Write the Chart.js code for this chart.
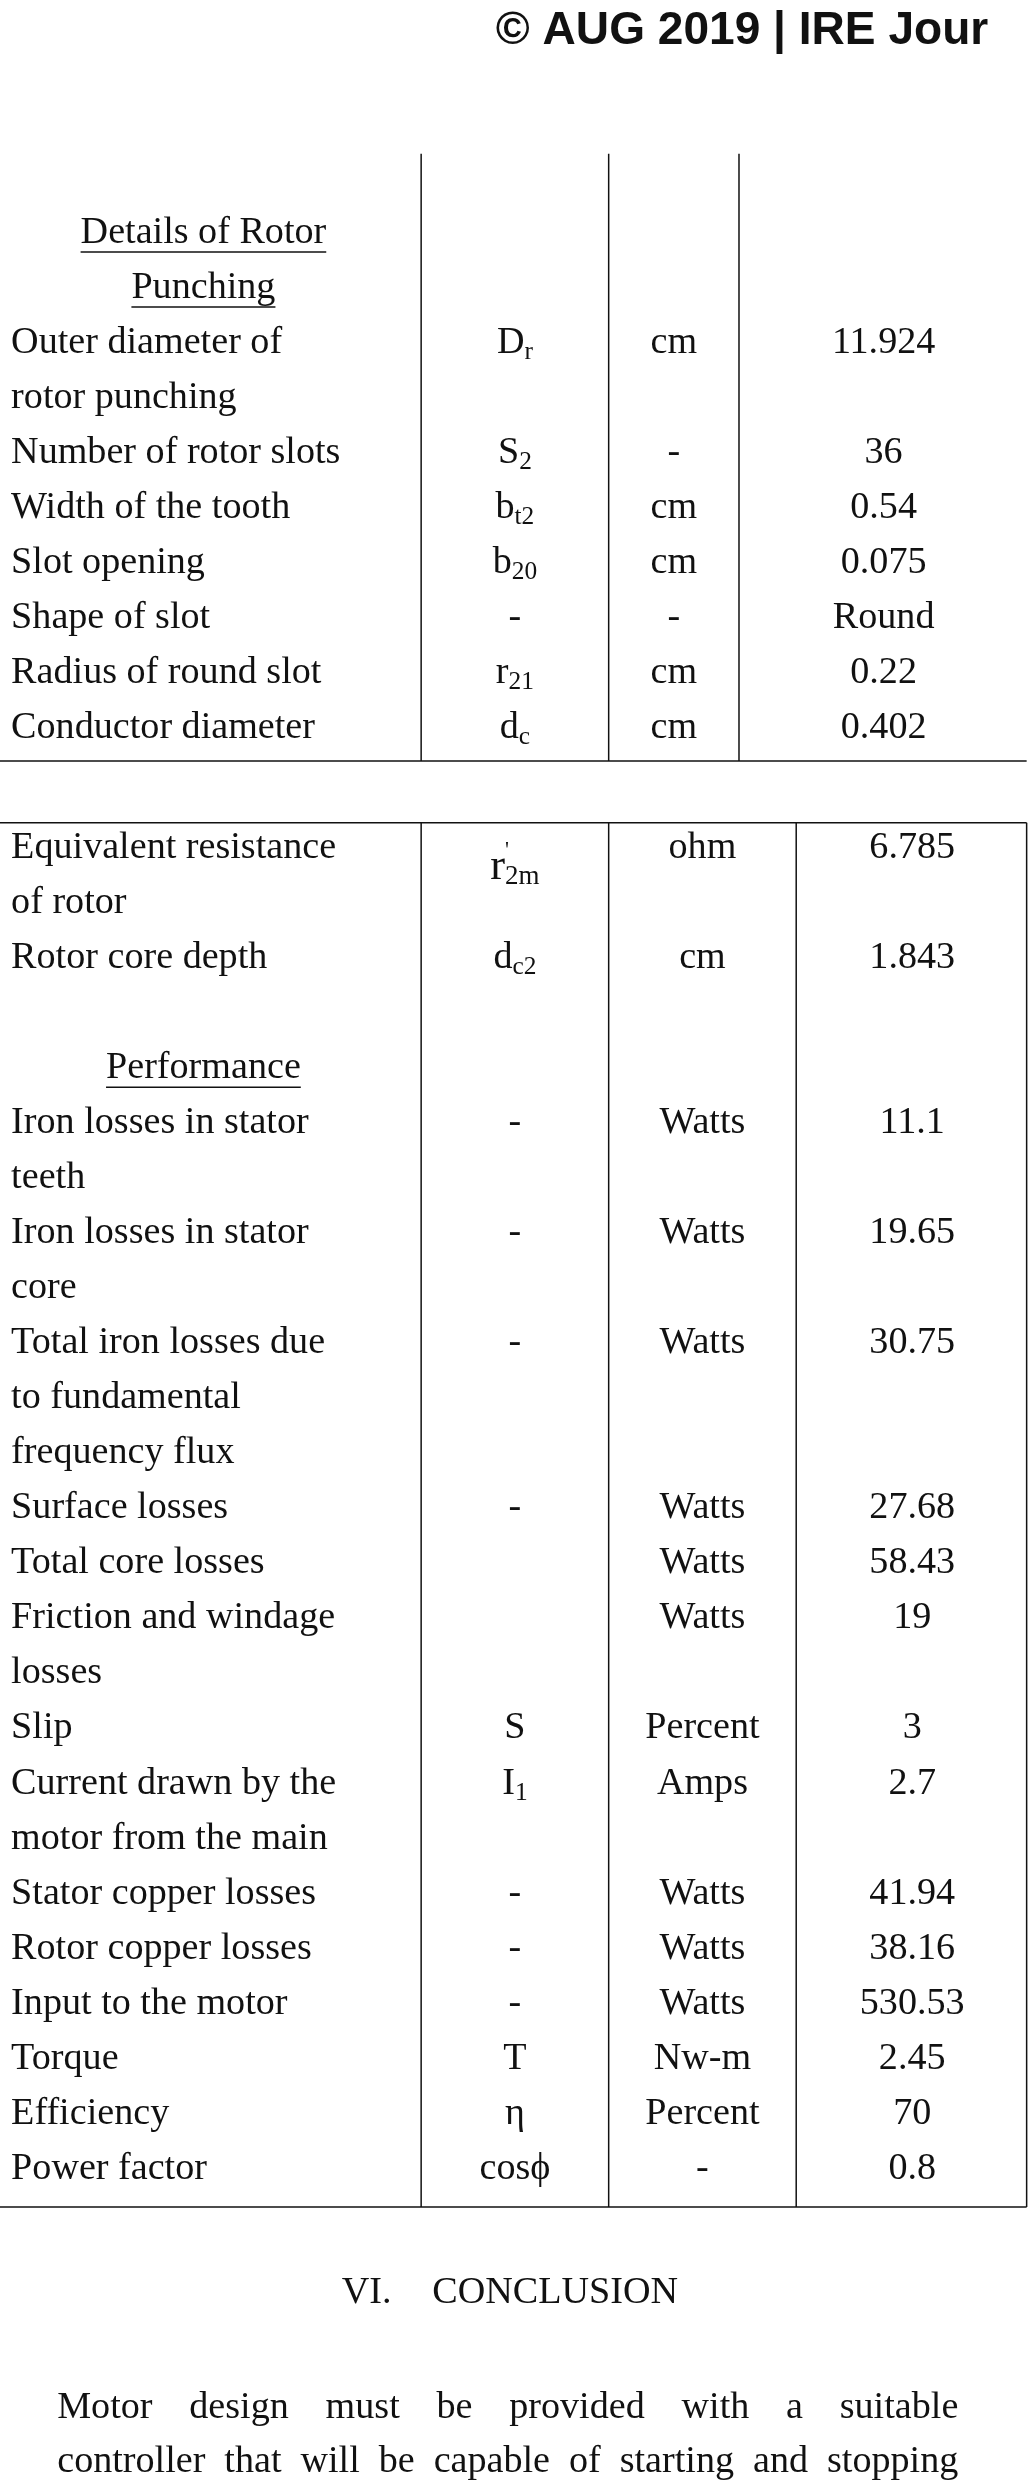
<!DOCTYPE html>
<html><head><meta charset="utf-8">
<script src="https://cdn.jsdelivr.net/npm/chart.js@4.4.1/dist/chart.umd.min.js"></script>
<style>html,body{margin:0;padding:0;background:#fff}#wrap{width:1033px;height:2486px}</style>
</head><body><div id="wrap"><canvas id="tbl"></canvas></div>
<script>
// table 1 lines (one entry per text line)
const t1Param = ['Details of Rotor', 'Punching', 'Outer diameter of', 'rotor punching', 'Number of rotor slots',
  'Width of the tooth', 'Slot opening', 'Shape of slot', 'Radius of round slot', 'Conductor diameter'];
const t1Sym = ['', '', 'D_r', '', 'S_2', 'b_t2', 'b_20', '-', 'r_21', 'd_c'];
const t1Unit = ['', '', 'cm', '', '-', 'cm', 'cm', '-', 'cm', 'cm'];
const t1Val = ['', '', '11.924', '', '36', '0.54', '0.075', 'Round', '0.22', '0.402'];
const t1Heads = [0, 1];

// table 2
const t2Param = ['Equivalent resistance', 'of rotor', 'Rotor core depth', '', 'Performance',
  'Iron losses in stator', 'teeth', 'Iron losses in stator', 'core', 'Total iron losses due', 'to fundamental',
  'frequency flux', 'Surface losses', 'Total core losses', 'Friction and windage', 'losses', 'Slip',
  'Current drawn by the', 'motor from the main', 'Stator copper losses', 'Rotor copper losses',
  'Input to the motor', 'Torque', 'Efficiency', 'Power factor'];
const t2Sym = ['R', '', 'd_c2', '', '', '-', '', '-', '', '-', '', '', '-', '', '', '', 'S',
  'I_1', '', '-', '-', '-', 'T', 'η', 'cosϕ'];
const t2Unit = ['ohm', '', 'cm', '', '', 'Watts', '', 'Watts', '', 'Watts', '', '', 'Watts', 'Watts', 'Watts', '',
  'Percent', 'Amps', '', 'Watts', 'Watts', 'Watts', 'Nw-m', 'Percent', '-'];
const t2Val = ['6.785', '', '1.843', '', '', '11.1', '', '19.65', '', '30.75', '', '', '27.68', '58.43', '19', '',
  '3', '2.7', '', '41.94', '38.16', '530.53', '2.45', '70', '0.8'];
const t2Heads = [4];

const rowStep = 34.7;
const serif = '"Liberation Serif", "Times New Roman", serif';

const tablePlugin = {
  id: 'tablePlugin',
  afterDraw(chart) {
    const { ctx, scales: { x, y } } = chart;
    const k = x.getPixelForValue(1) - x.getPixelForValue(0);
    const px = v => x.getPixelForValue(v);
    const py = v => y.getPixelForValue(v);

    ctx.save();
    ctx.fillStyle = '#111';
    ctx.strokeStyle = '#111';
    ctx.textBaseline = 'middle';

    function line(x1, y1, x2, y2) {
      ctx.lineWidth = 1.5;
      ctx.beginPath(); ctx.moveTo(px(x1), py(y1)); ctx.lineTo(px(x2), py(y2)); ctx.stroke();
    }
    function text(s, cx, cy, align, size) {
      ctx.font = (size * k) + 'px ' + serif;
      ctx.textAlign = align;
      ctx.fillText(s, px(cx), py(cy));
    }
    function sym(s, cx, cy) {
      if (s === 'R') {
        // r' with 2m subscript
        ctx.font = (28 * k) + 'px ' + serif;
        const w1 = ctx.measureText('r').width;
        ctx.font = (17 * k) + 'px ' + serif;
        const w2 = ctx.measureText('2m').width;
        let sx = px(cx) - (w1 + w2) / 2;
        ctx.textAlign = 'left';
        ctx.font = (28 * k) + 'px ' + serif;
        ctx.fillText('r', sx, py(cy + 12));
        ctx.font = (14 * k) + 'px ' + serif;
        ctx.fillText("'", sx + w1, py(cy + 2));
        ctx.font = (17 * k) + 'px ' + serif;
        ctx.fillText('2m', sx + w1, py(cy + 18));
        return;
      }
      const [base, sub] = s.split('_');
      ctx.font = (24 * k) + 'px ' + serif;
      const wb = ctx.measureText(base).width;
      ctx.font = (16 * k) + 'px ' + serif;
      const ws = sub ? ctx.measureText(sub).width : 0;
      const sx = px(cx) - (wb + ws) / 2;
      ctx.textAlign = 'left';
      ctx.font = (24 * k) + 'px ' + serif;
      ctx.fillText(base, sx, py(cy));
      if (sub) {
        ctx.font = (16 * k) + 'px ' + serif;
        ctx.fillText(sub, sx + wb, py(cy + 6));
      }
    }
    function table(params, syms, units, vals, heads, y0, cols) {
      params.forEach((p, i) => {
        const cy = y0 + i * rowStep;
        if (heads.includes(i)) {
          text(p, 128, cy, 'center', 24);
          ctx.font = (24 * k) + 'px ' + serif;
          const w = ctx.measureText(p).width / k;
          line(128 - w / 2, cy + 12, 128 + w / 2, cy + 12);
        } else if (p) {
          text(p, 7, cy, 'left', 24);
        }
        if (syms[i]) sym(syms[i], cols[0], cy);
        if (units[i]) text(units[i], cols[1], cy, 'center', 24);
        if (vals[i]) text(vals[i], cols[2], cy, 'center', 24);
      });
    }

    // header
    ctx.font = 'bold ' + (29 * k) + 'px "Liberation Sans", Arial, sans-serif';
    ctx.textAlign = 'left';
    ctx.fillText('© AUG 2019 | IRE Jour', px(312), py(20));

    // table 1 rules
    [265, 383, 465].forEach(v => line(v, 97, v, 480));
    line(0, 480, 646, 480);
    table(t1Param, t1Sym, t1Unit, t1Val, t1Heads, 147, [324, 424, 556]);

    // table 2 rules
    line(0, 519, 646, 519);
    [265, 383, 501, 646].forEach(v => line(v, 519, v, 1392));
    line(0, 1392, 646, 1392);
    table(t2Param, t2Sym, t2Unit, t2Val, t2Heads, 535, [324, 442, 574]);

    // conclusion
    text('VI.', 215, 1446, 'left', 24);
    text('CONCLUSION', 272, 1446, 'left', 24);
    function justify(words, cy) {
      ctx.font = (24 * k) + 'px ' + serif;
      ctx.textAlign = 'left';
      const total = words.reduce((a, w) => a + ctx.measureText(w).width, 0);
      const gap = (px(603) - px(36) - total) / (words.length - 1);
      let cx = px(36);
      words.forEach(w => { ctx.fillText(w, cx, py(cy)); cx += ctx.measureText(w).width + gap; });
    }
    justify('Motor design must be provided with a suitable'.split(' '), 1519);
    justify('controller that will be capable of starting and stopping'.split(' '), 1553);
    ctx.restore();
  }
};

new Chart(document.getElementById('tbl'), {
  type: 'scatter',
  data: { datasets: [{ data: [] }] },
  options: {
    responsive: true,
    maintainAspectRatio: false,
    animation: false,
    layout: { padding: 0 },
    scales: {
      x: { display: false, min: 0, max: 650 },
      y: { display: false, min: 0, max: 1568, reverse: true }
    },
    plugins: { legend: { display: false }, tooltip: { enabled: false } }
  },
  plugins: [tablePlugin]
});
</script>
</body></html>
